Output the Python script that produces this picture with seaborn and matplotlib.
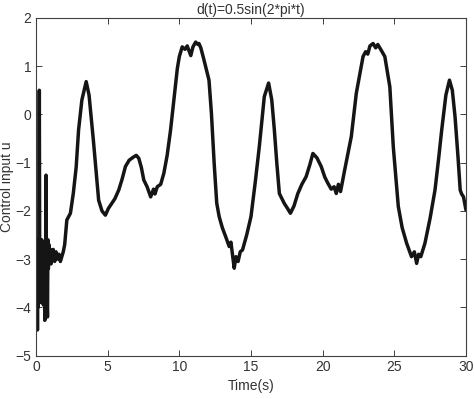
import numpy as np
import pandas as pd
import matplotlib
matplotlib.use("Agg")
import matplotlib.pyplot as plt
import seaborn as sns

# values (time in s, control input u)
time_s = [
    0.0, 0.02, 0.04, 0.06, 0.08, 0.1, 0.12, 0.14, 0.16, 0.18, 0.2, 0.23,
    0.26, 0.28, 0.3, 0.32, 0.34, 0.36, 0.38, 0.4, 0.42, 0.44, 0.46, 0.48,
    0.51, 0.53, 0.55, 0.58, 0.61, 0.64, 0.67, 0.7, 0.72, 0.74, 0.77, 0.8,
    0.83, 0.86, 0.9, 0.95, 1.0, 1.05, 1.1, 1.2, 1.3, 1.4, 1.5, 1.6, 1.7,
    1.8, 1.9, 2.0, 2.15, 2.4, 2.6, 2.8, 2.97, 3.2, 3.5, 3.7, 4.0, 4.2,
    4.37, 4.6, 4.84, 5.05, 5.3, 5.5, 5.77, 6.0, 6.24, 6.5, 6.82, 7.0, 7.17,
    7.35, 7.52, 7.75, 8.0, 8.2, 8.3, 8.46, 8.7, 8.92, 9.15, 9.39, 9.6,
    9.86, 10.0, 10.2, 10.4, 10.55, 10.7, 10.8, 10.95, 11.14, 11.3, 11.37,
    11.5, 11.6, 11.72, 12.07, 12.24, 12.43, 12.61, 12.78, 13.0, 13.24,
    13.48, 13.6, 13.7, 13.83, 13.95, 14.1, 14.25, 14.41, 14.7, 15.0, 15.3,
    15.58, 15.93, 16.23, 16.45, 16.63, 16.8, 16.98, 17.33, 17.55, 17.75,
    18.0, 18.27, 18.55, 18.85, 19.1, 19.32, 19.6, 19.9, 20.15, 20.37, 20.6,
    20.8, 20.95, 21.1, 21.25, 21.54, 22.0, 22.35, 22.6, 22.82, 23.0, 23.15,
    23.3, 23.52, 23.7, 23.85, 24.05, 24.34, 24.69, 24.93, 25.28, 25.55,
    25.86, 26.2, 26.4, 26.56, 26.7, 26.85, 27.14, 27.5, 27.84, 28.1, 28.31,
    28.6, 28.85, 29.05, 29.24, 29.45, 29.6, 29.7, 29.83, 30.0,
]
control_u = [
    -2.6, -4.1, -2.7, -4.3, -2.8, -4.47, -2.7, -4.0, -2.6, -3.9, -2.8, 0.5,
    -3.7, -2.7, -3.9, -2.6, -3.8, -2.7, -3.5, -2.6, -3.8, -2.7, -3.4, -2.8,
    -3.95, -2.7, -3.6, -2.8, -4.27, -2.7, -3.6, -1.26, -3.4, -2.7, -3.8,
    -4.2, -2.6, -3.2, -2.7, -3.0, -2.8, -3.1, -2.9, -2.8, -3.05, -2.85,
    -3.0, -2.9, -3.05, -2.95, -2.85, -2.7, -2.19, -2.05, -1.64, -1.1, -0.32,
    0.3, 0.68, 0.4, -0.53, -1.2, -1.78, -2.0, -2.09, -1.95, -1.84, -1.75,
    -1.57, -1.35, -1.08, -0.95, -0.88, -0.85, -0.91, -1.1, -1.36, -1.5,
    -1.71, -1.55, -1.65, -1.5, -1.45, -1.22, -0.85, -0.32, 0.25, 0.95, 1.2,
    1.4, 1.35, 1.42, 1.3, 1.22, 1.4, 1.5, 1.45, 1.47, 1.38, 1.27, 1.13,
    0.71, 0.02, -1.01, -1.84, -2.12, -2.35, -2.54, -2.74, -2.65, -2.88,
    -3.19, -2.95, -3.05, -2.85, -2.81, -2.5, -2.12, -1.4, -0.67, 0.37, 0.65,
    0.3, -0.32, -1.0, -1.64, -1.85, -1.95, -2.05, -1.9, -1.64, -1.45, -1.29,
    -1.05, -0.81, -0.9, -1.08, -1.3, -1.43, -1.55, -1.5, -1.64, -1.45,
    -1.6, -1.15, -0.46, 0.44, 0.85, 1.2, 1.3, 1.25, 1.42, 1.47, 1.38, 1.45,
    1.35, 1.2, 0.57, -0.67, -1.91, -2.35, -2.67, -2.95, -2.85, -3.09, -2.9,
    -2.95, -2.67, -2.15, -1.57, -0.9, -0.32, 0.4, 0.71, 0.5, -0.05, -0.9,
    -1.57, -1.65, -1.71, -1.98,
]

df = pd.DataFrame({"t": time_s, "u": control_u})

sns.set_style("ticks")
plt.rcParams["font.family"] = ["Liberation Sans", "DejaVu Sans"]

fig = plt.figure(figsize=(4.74, 3.99), dpi=100)
ax = fig.add_axes([0.076, 0.109, 0.907, 0.846])

sns.lineplot(data=df, x="t", y="u", estimator=None, sort=False,
             color="#151515", linewidth=2.5, ax=ax)

edge = "#404040"
for side in ["top", "right", "left", "bottom"]:
    ax.spines[side].set_visible(True)
    ax.spines[side].set_color(edge)
    ax.spines[side].set_linewidth(0.8)

ax.set_xlim(0, 30)
ax.set_ylim(-5, 2)
ax.set_xticks(range(0, 31, 5))
ax.set_yticks(range(-5, 3))
ax.tick_params(direction="in", length=4, width=0.7, color=edge,
               labelsize=10, labelcolor="#333333",
               top=True, right=True)

ax.set_xlabel("Time(s)", fontsize=10, color="#333333", labelpad=3)
ax.set_ylabel("Control input u", fontsize=10, color="#333333", labelpad=1)
ax.set_title("d(t)=0.5sin(2*pi*t)", fontsize=10, color="#333333", pad=3)

fig.savefig("out.png", dpi=100)
